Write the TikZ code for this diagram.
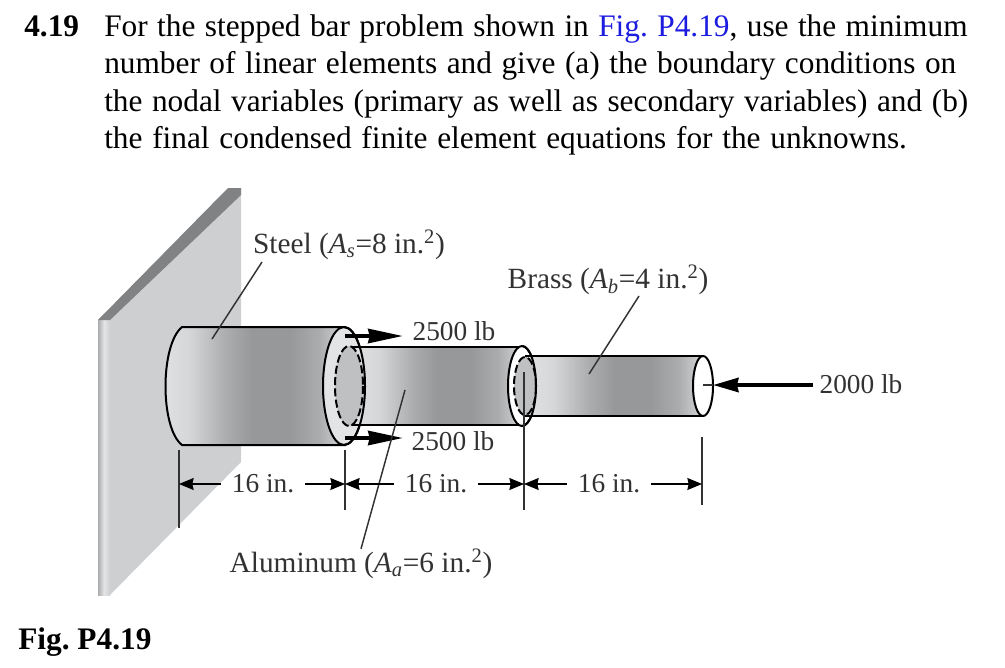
\documentclass[tikz,border=0pt]{standalone}
\usepackage{fontspec}
\setmainfont{Liberation Serif}
\usetikzlibrary{arrows.meta}

\definecolor{wallgray}{RGB}{205,207,209}
\definecolor{walledge}{RGB}{128,130,132}
\definecolor{ringgray}{RGB}{226,228,229}
\definecolor{discgray}{RGB}{190,192,194}
\definecolor{barlight}{RGB}{224,226,228}
\definecolor{barsoft}{RGB}{212,214,216}
\definecolor{barmid}{RGB}{170,172,174}
\definecolor{bardark}{RGB}{150,152,154}
\definecolor{linkblue}{RGB}{28,28,224}
\definecolor{inkgray}{RGB}{50,50,50}

\pgfdeclarehorizontalshading{barshade}{100bp}{color(0bp)=(barlight); color(25bp)=(barlight); color(33bp)=(barsoft); color(43bp)=(barmid); color(50bp)=(bardark); color(60bp)=(bardark); color(68bp)=(barmid); color(75bp)=(barsoft); color(100bp)=(barsoft)}
\pgfdeclarehorizontalshading{wallshade}{100bp}{color(0bp)=(walledge); color(25bp)=(barmid); color(50bp)=(ringgray); color(75bp)=(wallgray); color(100bp)=(wallgray)}

\tikzset{
  bodytext/.style={anchor=base west,inner sep=0pt,font=\fontsize{23.5}{28}\selectfont\frenchspacing},
  headtext/.style={anchor=base west,inner sep=0pt,font=\fontsize{23.5}{28}\selectfont\bfseries\frenchspacing},
  figlabel/.style={inner sep=0pt,text=inkgray,font=\fontsize{20.5}{24}\selectfont},
  matlabel/.style={figlabel,font=\fontsize{22}{24}\selectfont},
  dimlabel/.style={figlabel,inner xsep=8pt},
  barbody/.style={shading=barshade,draw=black,line width=1.5pt},
  edgeline/.style={draw=black,line width=1.5pt},
  dashline/.style={edgeline,dash pattern=on 6pt off 2.5pt},
  leader/.style={draw=inkgray,line width=1.1pt},
  tick/.style={draw=inkgray,line width=1pt},
  dimarrow/.style={draw=black,line width=0.8pt,-{Stealth[length=11pt,width=9pt,inset=1pt]}},
  force/.style={draw=black,line width=3pt,-{Stealth[length=26pt,width=10.5pt,inset=1pt]}},
  endforce/.style={draw=black,line width=3pt,-{Stealth[length=19pt,width=10.5pt,inset=1pt]}}
}
\newcommand{\txtline}[2]{\hbox to #1{#2}}

\begin{document}
\begin{tikzpicture}[x=0.75pt,y=0.75pt,yscale=-1,xscale=1]
\useasboundingbox (0,0) rectangle (1005,667);

% Problem text
\node[headtext] (probnum) at (24,37) {4.19};
\node[bodytext] (line1) at (104,37) {\txtline{647.5pt}{For the stepped bar problem shown in \textcolor{linkblue}{Fig. P4.19}, use the minimum}};
\node[bodytext] (line2) at (104,74) {\txtline{639pt}{number of linear elements and give (a) the boundary conditions on}};
\node[bodytext] (line3) at (104,111) {\txtline{648pt}{the nodal variables (primary as well as secondary variables) and (b)}};
\node[bodytext] (line4) at (104,148) {\txtline{602pt}{the final condensed finite element equations for the unknowns.}};
\node[headtext] (figname) at (18,649) {Fig. P4.19};

% Wall
\fill[wallgray] (98,320) -- (241,188) -- (241,462) -- (110,595) -- (98,595) -- cycle;
\shade[shading=wallshade] (98,320) -- (110,320) -- (110,595) -- (98,595) -- cycle;
\fill[walledge] (98,320) -- (228,188) -- (241,188) -- (241,195) -- (110,320) -- cycle;

% Steel bar
\draw[barbody] (182,327) -- (345,327) -- (345,445) -- (182,445) .. controls (160,428) and (160,345) .. (182,327) -- cycle;
\draw[edgeline,fill=ringgray] (344,386) ellipse (21 and 59);

% Aluminum bar
\draw[barbody] (352,347) -- (522,347) -- (522,425) -- (352,425) -- cycle;
\draw[dashline,fill=discgray] (349,386) ellipse (14 and 40);
\draw[edgeline] (344,327) arc (-90:90:21 and 59);
\draw[edgeline,fill=white] (522,386) ellipse (14 and 40);

% Brass bar
\draw[barbody] (526,356) -- (703,356) -- (703,416) -- (526,416) -- cycle;
\draw[dashline,fill=discgray] (525,386) ellipse (11 and 29);
\draw[edgeline] (522,346) arc (-90:90:14 and 40);
\draw[edgeline,fill=white] (703,386) ellipse (10 and 30);

% Text Node
\node[matlabel] (steellbl) at (349,245) {Steel (\textit{A}\textsubscript{\textit{s}}=8 in.\textsuperscript{2})};
\node[matlabel] (brasslbl) at (608,280) {Brass (\textit{A}\textsubscript{\textit{b}}=4 in.\textsuperscript{2})};
\node[matlabel] (alumlbl) at (361,564) {Aluminum (\textit{A}\textsubscript{\textit{a}}=6 in.\textsuperscript{2})};
\node[figlabel] (upperlb) at (454,331) {2500 lb};
\node[figlabel] (lowerlb) at (453,441) {2500 lb};
\node[figlabel] (endlb) at (861,384) {2000 lb};
\node[dimlabel] (dimsteel) at (263,484) {16 in.};
\node[dimlabel] (dimalum) at (436,484) {16 in.};
\node[dimlabel] (dimbrass) at (609,484) {16 in.};

% Forces
\coordinate (upperfrom) at (345,336);
\coordinate (upperto) at (403,336);
\coordinate (lowerfrom) at (345,438);
\coordinate (lowerto) at (403,438);
\coordinate (endfrom) at (813,385);
\coordinate (endtip) at (713,385);
\coordinate (endto) at (703,385);
\draw[force] (upperfrom) -- (upperto);
\draw[force] (lowerfrom) -- (lowerto);
\draw[endforce] (endfrom) -- (endtip);
\draw[leader] (endtip) -- (endto);

% Leaders
\coordinate (steelfrom) at (262,262);
\coordinate (steelto) at (212,339);
\coordinate (brassfrom) at (639,296);
\coordinate (brassto) at (589,374);
\coordinate (alumto) at (405,390);
\draw[leader] (steelfrom) -- (steelto);
\draw[leader] (brassfrom) -- (brassto);
\draw[leader] (alumlbl.north) -- (alumto);

% Dimension ticks
\coordinate (tickatop) at (179,450);
\coordinate (tickabot) at (179,528);
\coordinate (tickbtop) at (345,450);
\coordinate (tickbbot) at (345,510);
\coordinate (tickctop) at (524,372);
\coordinate (tickcbot) at (524,510);
\coordinate (tickdtop) at (702,437);
\coordinate (tickdbot) at (702,505);
\draw[tick] (tickatop) -- (tickabot);
\draw[tick] (tickbtop) -- (tickbbot);
\draw[tick] (tickctop) -- (tickcbot);
\draw[tick] (tickdtop) -- (tickdbot);

% Dimension arrows
\draw[dimarrow] (dimsteel.west) -- (tickatop |- dimsteel);
\draw[dimarrow] (dimsteel.east) -- (tickbtop |- dimsteel);
\draw[dimarrow] (dimalum.west) -- (tickbtop |- dimalum);
\draw[dimarrow] (dimalum.east) -- (tickctop |- dimalum);
\draw[dimarrow] (dimbrass.west) -- (tickctop |- dimbrass);
\draw[dimarrow] (dimbrass.east) -- (tickdtop |- dimbrass);

\end{tikzpicture}
\end{document}
